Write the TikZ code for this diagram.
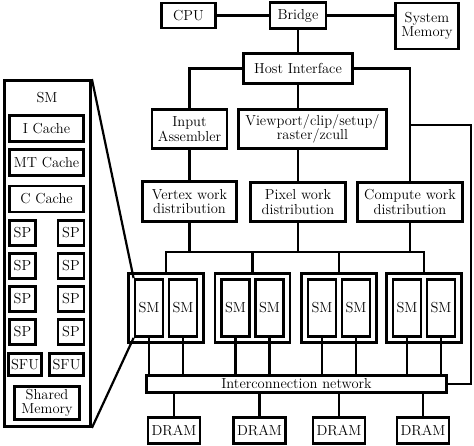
\documentclass[tikz,border=0pt]{standalone}
\usepackage{tikz}
\usetikzlibrary{positioning,calc}

\begin{document}
\begin{tikzpicture}[x=1pt, y=-1pt,
  unit/.style 2 args={draw, line width=2.8pt, fill=white, inner sep=0pt, align=center, minimum width=#1, minimum height=#2, font=\fontsize{14.5}{14.5}\selectfont},
  label/.style={inner sep=0pt, font=\fontsize{14.5}{14.5}\selectfont},
  wire/.style={line width=2.8pt},
  zoomline/.style={line width=2.2pt}
]
  \useasboundingbox (0,0) rectangle (474,445);

  \node[unit={54pt}{25pt}] (cpu) at (188.5,15.5) {CPU};
  \node[unit={56pt}{26pt}] (bridge) at (298,15.5) {Bridge};
  \node[unit={63pt}{46pt}] (sysmem) at (427,26) {System\\Memory};
  \node[unit={109pt}{30pt}] (host) at (298,68.5) {Host Interface};
  \node[unit={75pt}{39pt}] (input) at (189.5,129) {Input\\Assembler};
  \node[unit={148pt}{39pt}] (viewport) at (312.5,129) {Viewport/clip/setup/\\raster/zcull};
  \node[unit={94pt}{40pt}] (vertex) at (189.5,201.5) {Vertex work\\distribution};
  \node[unit={95pt}{39pt}] (pixel) at (298,202) {Pixel work\\distribution};
  \node[unit={105pt}{39pt}] (compute) at (410,202) {Compute work\\distribution};

  \foreach \i/\x in {1/166,2/252.5,3/339,4/424} {
    \node[unit={75pt}{69pt}] (cl\i) at (\x,308) {};
    \node[unit={28pt}{57pt}] (sma\i) at (\x-17,308) {SM};
    \node[unit={28pt}{57pt}] (smb\i) at (\x+17,308) {SM};
  }

  \node[unit={300pt}{17pt}] (net) at (296.5,384) {Interconnection network};
  \foreach \i/\x in {1/174,2/259.5,3/339,4/423}
    \node[unit={52pt}{26pt}] (dram\i) at (\x,430.5) {DRAM};

  \node[unit={86pt}{346pt}] (detail) at (47.5,253.5) {};
  \node[label] (smtitle) at (47,98) {SM};
  \node[unit={74pt}{26pt}] (icache) at (46.5,128.5) {I Cache};
  \node[unit={74pt}{26pt}] (mtcache) at (46.5,162.5) {MT Cache};
  \node[unit={74pt}{26pt}] (ccache) at (46.5,199) {C Cache};
  \foreach \i/\y in {1/233,2/266,3/299,4/332} {
    \node[unit={26pt}{25pt}] (spl\i) at (22.5,\y) {SP};
    \node[unit={26pt}{25pt}] (spr\i) at (71,\y) {SP};
  }
  \node[unit={33pt}{22pt}] (sful) at (25,364.5) {SFU};
  \node[unit={34pt}{22pt}] (sfur) at (66.5,364.5) {SFU};
  \node[unit={65pt}{33pt}] (shmem) at (47,403) {Shared\\Memory};

  \coordinate (bus) at (0,252);
  \coordinate (tap) at (410,125);
  \coordinate (rim) at (471,125);

  \draw[wire] (cpu) -- (bridge);
  \draw[wire] (bridge.east) -- (bridge.east -| sysmem.west);
  \draw[wire] (bridge) -- (host);
  \draw[wire] (host.west) -| (input.north);
  \draw[wire] (host.south) -- (host.south |- viewport.north);
  \draw[wire] (host.east) -| (compute.north);
  \draw[wire] (tap) -- (rim) |- (net.east);
  \draw[wire] (input) -- (vertex);
  \draw[wire] (host |- viewport.south) -- (pixel.north);
  \draw[wire] (cl1.north) -- (cl1.north |- bus) -- (cl4.north |- bus) -- (cl4.north);
  \draw[wire] (cl2.north) -- (cl2.north |- bus);
  \draw[wire] (cl3.north) -- (cl3.north |- bus);
  \draw[wire] (vertex.south) -- (vertex.south |- bus);
  \draw[wire] (pixel.south) -- (pixel.south |- bus);
  \draw[wire] (compute.south) -- (compute.south |- bus);
  \foreach \i in {1,...,4} {
    \draw[wire] (sma\i.south) -- (sma\i.south |- net.north);
    \draw[wire] (smb\i.south) -- (smb\i.south |- net.north);
    \draw[wire] (dram\i.north) -- (dram\i.north |- net.south);
  }
  \draw[zoomline] (detail.north east) -- (sma1.north west);
  \draw[zoomline] (detail.south east) -- (sma1.south west);
\end{tikzpicture}
\end{document}
